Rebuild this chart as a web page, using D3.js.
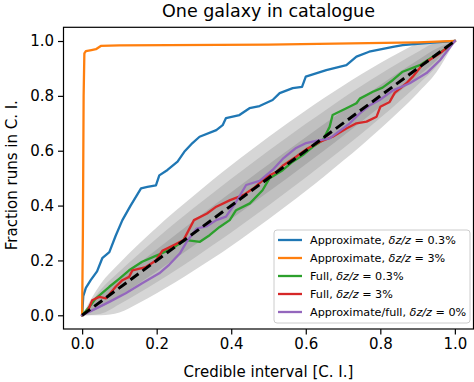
<!DOCTYPE html>
<html><head><meta charset="utf-8">
<script src="https://cdn.jsdelivr.net/npm/d3@7"></script>
<style>body{margin:0;background:#fff}svg{display:block}text{font-family:"DejaVu Sans",sans-serif;fill:#000}</style>
</head><body>
<svg id="c" width="474" height="382"></svg>
<script>
// ---- data ----
const bandX = [0,0.05,0.1,0.15,0.2,0.25,0.3,0.35,0.4,0.45,0.5,0.55,0.6,0.65,0.7,0.75,0.8,0.85,0.9,0.95,1];
const band1 = [0,0.022,0.030,0.036,0.040,0.043,0.046,0.048,0.049,0.050,0.050,0.050,0.049,0.048,0.046,0.043,0.040,0.036,0.030,0.022,0];
const band2 = [0,0.044,0.060,0.071,0.080,0.087,0.092,0.095,0.098,0.099,0.100,0.099,0.098,0.095,0.092,0.087,0.080,0.071,0.060,0.044,0];
const band3 = [0,0.065,0.090,0.107,0.120,0.130,0.137,0.143,0.147,0.149,0.150,0.149,0.147,0.143,0.137,0.130,0.120,0.107,0.090,0.065,0];

const blueX = [0,0.003,0.01,0.023,0.04,0.054,0.073,0.09,0.108,0.13,0.158,0.175,0.198,0.207,0.229,0.256,0.274,0.296,0.315,0.36,0.377,0.386,0.422,0.449,0.476,0.511,0.53,0.565,0.59,0.60,0.655,0.709,0.736,0.77,0.834,0.86,0.9,0.95,1];
const blueY = [0,0.07,0.1,0.128,0.16,0.208,0.23,0.29,0.347,0.4,0.463,0.468,0.474,0.51,0.53,0.56,0.596,0.628,0.651,0.675,0.693,0.719,0.73,0.755,0.763,0.785,0.81,0.828,0.833,0.87,0.894,0.912,0.943,0.961,0.979,0.985,0.99,0.995,1];

const orangeX = [0,0.002,0.004,0.006,0.01,0.025,0.037,0.05,0.1,0.5,0.9,1];
const orangeY = [0,0.3,0.8,0.955,0.963,0.967,0.97,0.982,0.984,0.987,0.995,1];

const greenX = [0,0.019,0.037,0.073,0.1,0.126,0.161,0.207,0.242,0.269,0.28,0.316,0.342,0.369,0.396,0.413,0.45,0.484,0.503,0.538,0.565,0.592,0.619,0.646,0.664,0.672,0.709,0.736,0.745,0.78,0.806,0.834,0.86,0.906,0.941,0.977,1];
const greenY = [0,0.03,0.062,0.104,0.134,0.164,0.195,0.222,0.244,0.268,0.274,0.268,0.292,0.322,0.347,0.383,0.408,0.456,0.5,0.529,0.56,0.584,0.614,0.639,0.687,0.73,0.755,0.773,0.79,0.815,0.83,0.858,0.888,0.912,0.943,0.973,1];

const redX = [0,0.014,0.027,0.046,0.064,0.09,0.108,0.126,0.135,0.171,0.198,0.215,0.245,0.272,0.30,0.335,0.36,0.397,0.432,0.459,0.495,0.522,0.538,0.574,0.601,0.637,0.672,0.709,0.736,0.763,0.79,0.80,0.825,0.839,0.87,0.887,0.914,0.96,1];
const redY = [0,0.012,0.055,0.067,0.062,0.104,0.128,0.14,0.164,0.176,0.2,0.235,0.255,0.274,0.347,0.371,0.396,0.42,0.438,0.462,0.505,0.523,0.545,0.578,0.605,0.632,0.651,0.681,0.70,0.706,0.724,0.76,0.778,0.812,0.846,0.87,0.915,0.955,1];

const purpleX = [0,0.027,0.073,0.117,0.161,0.207,0.234,0.262,0.28,0.307,0.335,0.36,0.386,0.413,0.44,0.476,0.511,0.538,0.574,0.601,0.628,0.664,0.682,0.718,0.745,0.772,0.798,0.834,0.879,0.924,0.96,1];
const purpleY = [0,0.018,0.049,0.08,0.117,0.153,0.185,0.225,0.267,0.316,0.325,0.347,0.36,0.413,0.475,0.49,0.53,0.57,0.61,0.628,0.636,0.645,0.663,0.70,0.736,0.766,0.785,0.82,0.846,0.883,0.93,1];

const diagX = [0,1];
const diagY = [0,1];

const xTicks = [0,0.2,0.4,0.6,0.8,1.0];
const yTicks = [0,0.2,0.4,0.6,0.8,1.0];

const seriesNames = ["Approximate, ", "Approximate, ", "Full, ", "Full, ", "Approximate/full, "];
const seriesErr = ["0.3%", "3%", "0.3%", "3%", "0%"];
const seriesColors = ["#1f77b4", "#ff7f0e", "#2ca02c", "#d62728", "#9467bd"];
const bandColors = ["#d6d6d6", "#c0c0c0", "#ababab"];

const title = "One galaxy in catalogue";
const xLabel = "Credible interval [C. I.]";
const yLabel = "Fraction runs in C. I.";

// ---- drawing ----
const svg = d3.select("#c");
const L = 63.5, R = 473.5, T = 27.3, B = 329;
const x = d3.scaleLinear().domain([-0.05, 1.05]).range([L, R]);
const y = d3.scaleLinear().domain([-0.05, 1.05]).range([B, T]);

const clip = v => Math.max(0, Math.min(1, v));
const bands = [band3, band2, band1];
bands.forEach((b, i) => {
  const pts = bandX.map((bx, j) => ({x: bx, lo: clip(bx - b[j]), hi: clip(bx + b[j])}));
  svg.append("path").datum(pts)
    .attr("d", d3.area().x(d => x(d.x)).y0(d => y(d.lo)).y1(d => y(d.hi)).curve(d3.curveMonotoneX))
    .attr("fill", bandColors[i]);
});

const line = d3.line().x(d => x(d[0])).y(d => y(d[1]));
const seriesData = [[blueX, blueY], [orangeX, orangeY], [greenX, greenY], [redX, redY], [purpleX, purpleY]];
seriesData.forEach(([sx, sy], i) => {
  svg.append("path").datum(sx.map((v, j) => [v, sy[j]]))
    .attr("d", line).attr("fill", "none").attr("stroke", seriesColors[i])
    .attr("stroke-width", 2.3).attr("stroke-linejoin", "round").attr("stroke-linecap", "square");
});
svg.append("path").datum(diagX.map((v, j) => [v, diagY[j]]))
  .attr("d", line).attr("fill", "none").attr("stroke", "#000")
  .attr("stroke-width", 3).attr("stroke-dasharray", "10,5");

// axes frame
svg.append("rect").attr("x", L).attr("y", T).attr("width", R - L).attr("height", B - T)
  .attr("fill", "none").attr("stroke", "#000").attr("stroke-width", 1.2);

const xAxis = svg.append("g").attr("transform", `translate(0,${B})`)
  .call(d3.axisBottom(x).tickValues(xTicks).tickFormat(d3.format(".1f")).tickSize(5.5).tickPadding(4));
const yAxis = svg.append("g").attr("transform", `translate(${L},0)`)
  .call(d3.axisLeft(y).tickValues(yTicks).tickFormat(d3.format(".1f")).tickSize(5.5).tickPadding(4));
[xAxis, yAxis].forEach(a => {
  a.select(".domain").remove();
  a.selectAll("line").attr("stroke", "#000").attr("stroke-width", 1.2);
  a.selectAll("text").attr("font-size", 15).attr("font-family", "DejaVu Sans").attr("fill", "#000");
});

svg.append("text").attr("x", (L + R) / 2).attr("y", 17).attr("text-anchor", "middle")
  .attr("font-size", 17.5).text(title);
svg.append("text").attr("x", (L + R) / 2).attr("y", 377).attr("text-anchor", "middle")
  .attr("font-size", 15).text(xLabel);
svg.append("text").attr("transform", `translate(17,${(T + B) / 2 - 3}) rotate(-90)`)
  .attr("text-anchor", "middle").attr("font-size", 15).text(yLabel);

// legend
const lg = svg.append("g");
lg.append("rect").attr("x", 274).attr("y", 230).attr("width", 196).attr("height", 93).attr("rx", 3)
  .attr("fill", "#fff").attr("fill-opacity", 0.8).attr("stroke", "#cccccc").attr("stroke-width", 1);
seriesNames.forEach((nm, i) => {
  const cy = 240 + i * 18;
  lg.append("line").attr("x1", 278).attr("x2", 302).attr("y1", cy).attr("y2", cy)
    .attr("stroke", seriesColors[i]).attr("stroke-width", 2.3);
  const t = lg.append("text").attr("x", 310).attr("y", cy + 4).attr("font-size", 11.2);
  t.append("tspan").text(nm);
  t.append("tspan").attr("font-style", "italic").text("δz/z");
  t.append("tspan").text(" = " + seriesErr[i]);
});
</script>
</body></html>
